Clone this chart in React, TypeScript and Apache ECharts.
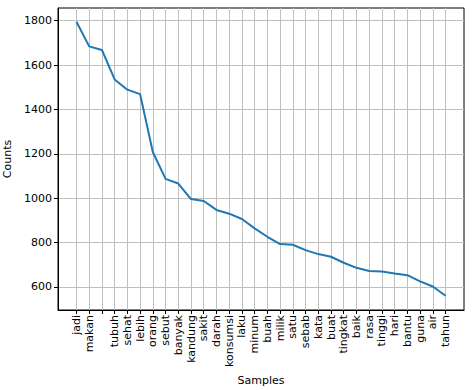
import React, { useEffect, useRef } from 'react';
import * as echarts from 'echarts';

const categories = ['jadi', 'makan', '', 'tubuh', 'sehat', 'lebih', 'orang', 'sebut', 'banyak', 'kandung', 'sakit', 'darah', 'konsumsi', 'laku', 'minum', 'buah', 'milik', 'satu', 'sebab', 'kata', 'buat', 'tingkat', 'baik', 'rasa', 'tinggi', 'hari', 'bantu', 'guna', 'air', 'tahun'];
const counts = [1795, 1684, 1668, 1535, 1489, 1469, 1208, 1087, 1066, 996, 987, 947, 930, 906, 864, 826, 793, 790, 766, 748, 736, 709, 686, 672, 670, 661, 653, 625, 602, 560];
const yTicks = [600, 800, 1000, 1200, 1400, 1600, 1800];

export default function App() {
  const ref = useRef<HTMLDivElement>(null);
  useEffect(() => {
    if (!ref.current) return;
    const chart = echarts.init(ref.current, null, { renderer: 'svg' });
    const xTicks = categories.map((_, i) => i);
    const n = categories.length - 1;
    const pad = n * 0.05;
    const font = 'DejaVu Sans';
    chart.setOption({
      animation: false,
      backgroundColor: '#fff',
      grid: { left: 58, right: 10, top: 8, bottom: 80, outerBoundsMode: 'none', containLabel: false, show: true, borderColor: '#000', borderWidth: 1, backgroundColor: 'transparent' },
      xAxis: {
        type: 'value',
        min: -pad,
        max: n + pad,
        name: 'Samples',
        nameLocation: 'middle',
        nameGap: 64,
        nameTextStyle: { fontFamily: font, fontSize: 11, color: '#000' },
        axisLine: { show: true, onZero: false, lineStyle: { color: '#000', width: 1 } },
        axisTick: { show: true, customValues: xTicks, length: 4, lineStyle: { color: '#000' } },
        axisLabel: {
          customValues: xTicks,
          rotate: 90,
          margin: 5,
          fontFamily: font,
          fontSize: 11,
          color: '#000',
          formatter: (v: number) => categories[Math.round(v)] ?? '',
        },
        splitLine: { show: true, lineStyle: { color: '#c0c0c0', width: 1 } },
      },
      yAxis: {
        type: 'value',
        min: 496,
        max: 1857,
        name: 'Counts',
        nameLocation: 'middle',
        nameGap: 42,
        nameTextStyle: { fontFamily: font, fontSize: 11, color: '#000' },
        axisLine: { show: true, onZero: false, lineStyle: { color: '#000', width: 1 } },
        axisTick: { show: true, customValues: yTicks, length: 4, lineStyle: { color: '#000' } },
        axisLabel: { customValues: yTicks, margin: 6, fontFamily: font, fontSize: 11, color: '#000', formatter: (v: number) => String(v) },
        splitLine: { show: true, lineStyle: { color: '#c0c0c0', width: 1 } },
      },
      series: [
        {
          type: 'line',
          data: counts.map((v, i) => [i, v]),
          showSymbol: false,
          symbol: 'none',
          lineStyle: { color: '#1f77b4', width: 2 },
        },
      ],
    });
    return () => chart.dispose();
  }, []);
  return <div ref={ref} style={{ position: 'fixed', left: 0, top: 0, width: 474, height: 390 }} />;
}
